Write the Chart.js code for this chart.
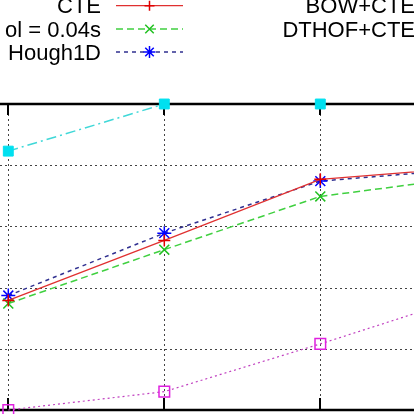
<!DOCTYPE html>
<html>
<head>
<meta charset="utf-8">
<script src="https://cdn.jsdelivr.net/npm/chart.js@4.4.0/dist/chart.umd.min.js"></script>
<style>
html, body { margin: 0; padding: 0; background: #fff; }
</style>
</head>
<body>
<canvas id="chart" width="414" height="414"></canvas>
<script>
// x positions (only 3 and a bit are visible in the crop)
const xValues = [1, 2, 3, 4];
// horizontal grid levels (no labels visible in the crop)
const yTicks = [50, 60, 70, 80, 90, 100];

const cte = [67.9, 77.7, 87.7, 89.7];
const pool004 = [67.4, 76.2, 84.9, 88.2];
const hough1d = [68.7, 78.9, 87.4, 89.5];
const bowCte = [50.0, 53.0, 60.8, 69.0];
const dthofCte = [92.3, 100, 100, 100];

const labelsLeft = ['CTE', 'ol = 0.04s', 'Hough1D'];
const labelsRight = ['BOW+CTE', 'DTHOF+CTE'];

function pts(arr) {
    return arr.map((v, i) => ({ x: xValues[i], y: v }));
}

const data = {
    datasets: [
        {
            label: labelsLeft[0], data: pts(cte),
            borderColor: '#e03030', borderWidth: 1.3,
            pointStyle: 'cross', pointRadius: 6, pointBorderColor: '#e00000', pointBorderWidth: 1.5
        },
        {
            label: labelsLeft[1], data: pts(pool004),
            borderColor: '#40d040', borderWidth: 1.5, borderDash: [7, 4],
            pointStyle: 'crossRot', pointRadius: 7, pointBorderColor: '#20c020', pointBorderWidth: 1.5
        },
        {
            label: labelsLeft[2], data: pts(hough1d),
            borderColor: '#303090', borderWidth: 1.5, borderDash: [4, 4],
            pointStyle: 'star', pointRadius: 7, pointBorderColor: '#0000ff', pointBorderWidth: 1.5
        },
        {
            label: labelsRight[0], data: pts(bowCte),
            borderColor: '#c040c0', borderWidth: 1.2, borderDash: [2, 3],
            pointStyle: 'rect', pointRadius: 7.5, pointBorderColor: '#e020e0',
            pointBackgroundColor: 'rgba(255,255,255,0)', pointBorderWidth: 1.5
        },
        {
            label: labelsRight[1], data: pts(dthofCte),
            borderColor: '#40d8d8', borderWidth: 1.5, borderDash: [10, 4, 2, 4],
            pointStyle: 'rect', pointRadius: 7, pointBorderColor: '#00e0f0',
            pointBackgroundColor: '#00e0f0', pointBorderWidth: 1,
            // segment lying on the top border is hidden under it
            segment: {
                borderColor: c => (c.p0.parsed.y >= 100 && c.p1.parsed.y >= 100) ? 'rgba(0,0,0,0)' : undefined
            }
        }
    ]
};
data.datasets.forEach(d => { d.fill = false; d.clip = false; d.tension = 0; });

// gnuplot-like frame: dotted grid, thick border, inward ticks
const frame = {
    id: 'frame',
    beforeDatasetsDraw(chart) {
        const { ctx, chartArea: { left, right, top, bottom }, scales: { x, y } } = chart;
        ctx.save();
        ctx.strokeStyle = '#444';
        ctx.lineWidth = 1;
        ctx.setLineDash([2, 3]);
        yTicks.forEach(t => {
            if (t === yTicks[0] || t === yTicks[yTicks.length - 1]) return;
            const py = Math.round(y.getPixelForValue(t)) + 0.5;
            ctx.beginPath(); ctx.moveTo(left, py); ctx.lineTo(right, py); ctx.stroke();
        });
        xValues.forEach(v => {
            const px = Math.round(x.getPixelForValue(v)) + 0.5;
            ctx.beginPath(); ctx.moveTo(px, top); ctx.lineTo(px, bottom); ctx.stroke();
        });
        ctx.setLineDash([]);
        ctx.strokeStyle = '#000';
        ctx.lineWidth = 2;
        xValues.forEach(v => {
            const px = Math.round(x.getPixelForValue(v));
            ctx.beginPath(); ctx.moveTo(px, top); ctx.lineTo(px, top + 11); ctx.stroke();
            ctx.beginPath(); ctx.moveTo(px, bottom); ctx.lineTo(px, bottom - 12); ctx.stroke();
        });
        ctx.lineWidth = 2.5;
        ctx.beginPath(); ctx.moveTo(left, top); ctx.lineTo(right, top); ctx.stroke();
        ctx.beginPath(); ctx.moveTo(left, bottom); ctx.lineTo(right, bottom); ctx.stroke();
        ctx.restore();
    }
};

// key in the top-left / top-right corner
const key = {
    id: 'key',
    afterDraw(chart) {
        const { ctx } = chart;
        const rowY = [5.7, 29, 52];
        ctx.save();
        ctx.font = '22px "Liberation Sans", Arial, sans-serif';
        ctx.textAlign = 'right';
        ctx.textBaseline = 'alphabetic';
        labelsLeft.forEach((lab, i) => {
            const ds = chart.data.datasets[i];
            const yy = rowY[i];
            ctx.fillStyle = '#000';
            ctx.fillText(lab, 101, yy + 7.5);
            ctx.strokeStyle = ds.borderColor;
            ctx.lineWidth = ds.borderWidth;
            ctx.setLineDash(ds.borderDash || []);
            ctx.beginPath(); ctx.moveTo(116, yy); ctx.lineTo(183, yy); ctx.stroke();
            ctx.setLineDash([]);
            ctx.strokeStyle = ds.pointBorderColor;
            ctx.fillStyle = ds.pointBackgroundColor || ds.pointBorderColor;
            ctx.lineWidth = ds.pointBorderWidth;
            Chart.helpers.drawPoint(ctx, { pointStyle: ds.pointStyle, radius: ds.pointRadius - 1, rotation: 0, borderWidth: ds.pointBorderWidth }, 149.5, yy);
        });
        ctx.fillStyle = '#000';
        labelsRight.forEach((lab, i) => {
            ctx.fillText(lab, 415, rowY[i] + 7.5);
        });
        ctx.restore();
    }
};

const config = {
    type: 'line',
    data,
    options: {
        responsive: false,
        animation: false,
        devicePixelRatio: 1,
        layout: {
            autoPadding: false,
            padding: { top: 104, bottom: 4, left: 0, right: 0 }
        },
        scales: {
            x: { type: 'linear', min: 0.9468, max: 3.6006, display: false },
            y: { type: 'linear', min: 50, max: 100, display: false }
        },
        plugins: {
            legend: { display: false },
            tooltip: { enabled: false }
        }
    },
    plugins: [frame, key]
};

var myChart = new Chart(document.getElementById('chart'), config);
</script>
</body>
</html>
